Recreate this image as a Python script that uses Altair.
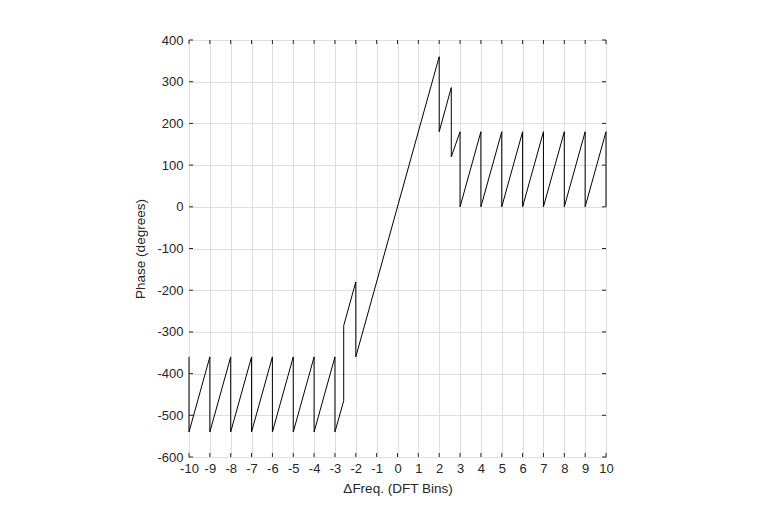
import altair as alt
import pandas as pd

# phase curve vertices
freq = [-10, -10, -9, -9, -8, -8, -7, -7, -6, -6, -5, -5, -4, -4, -3, -3,
        -2.58, -2.58, -2, -2, 2, 2, 2.58, 2.58, 3, 3,
        4, 4, 5, 5, 6, 6, 7, 7, 8, 8, 9, 9, 10, 10]
phase = [-360, -540, -360, -540, -360, -540, -360, -540, -360, -540, -360, -540,
         -360, -540, -360, -540,
         -465, -285, -180, -360, 360, 180, 286, 120, 180, 0,
         180, 0, 180, 0, 180, 0, 180, 0, 180, 0, 180, 0, 180, 0]

x_ticks = list(range(-10, 11))
y_ticks = list(range(-600, 401, 100))

W, H = 417, 417
AX = "#262626"
FONT = "Liberation Sans"
XT = "\u0394Freq. (DFT Bins)"
YT = "Phase (degrees)"

df = pd.DataFrame({"f": freq, "p": phase, "o": list(range(len(freq)))})
xs = alt.Scale(domain=[-10, 10], nice=False, zero=False)
ys = alt.Scale(domain=[-600, 400], nice=False, zero=False)
xa = alt.Axis(values=x_ticks, labelExpr="toString(datum.value)", grid=True,
              ticks=False, domain=False, labelPadding=5, titlePadding=6,
              labelOverlap=False, labelFlush=False, labelBound=False)
ya = alt.Axis(values=y_ticks, labelExpr="toString(datum.value)", grid=True,
              ticks=False, domain=False, labelPadding=6, titlePadding=9,
              labelOverlap=False, labelFlush=False, labelBound=False)

line = alt.Chart(df).mark_line(color="black", strokeWidth=1).encode(
    x=alt.X("f:Q", scale=xs, title=XT, axis=xa),
    y=alt.Y("p:Q", scale=ys, title=YT, axis=ya),
    order="o:Q",
)

xt = pd.DataFrame({"t": x_ticks})
yt = pd.DataFrame({"v": y_ticks})
tb = alt.Chart(xt).mark_rule(color=AX, strokeWidth=1).encode(
    x=alt.X("t:Q", scale=xs, title=XT, axis=xa), y=alt.value(H), y2=alt.value(H - 4))
tt = alt.Chart(xt).mark_rule(color=AX, strokeWidth=1).encode(
    x=alt.X("t:Q", scale=xs, title=XT, axis=xa), y=alt.value(0), y2=alt.value(4))
tl = alt.Chart(yt).mark_rule(color=AX, strokeWidth=1).encode(
    y=alt.Y("v:Q", scale=ys, title=YT, axis=ya), x=alt.value(0), x2=alt.value(4))
tr = alt.Chart(yt).mark_rule(color=AX, strokeWidth=1).encode(
    y=alt.Y("v:Q", scale=ys, title=YT, axis=ya), x=alt.value(W), x2=alt.value(W - 4))

chart = alt.layer(line, tb, tt, tl, tr).properties(
    width=W, height=H, autosize="none",
    padding={"left": 181, "top": 32, "right": 140, "bottom": 48},
    background="white",
).configure_view(stroke=AX, strokeWidth=1).configure_axis(
    gridColor="#dfdfdf", gridWidth=1, labelFont=FONT, titleFont=FONT,
    labelFontSize=13, titleFontSize=13.5, labelColor=AX, titleColor=AX,
    titleFontWeight="normal",
)

chart.save("out.html", embed_options={"renderer": "svg", "actions": False})
